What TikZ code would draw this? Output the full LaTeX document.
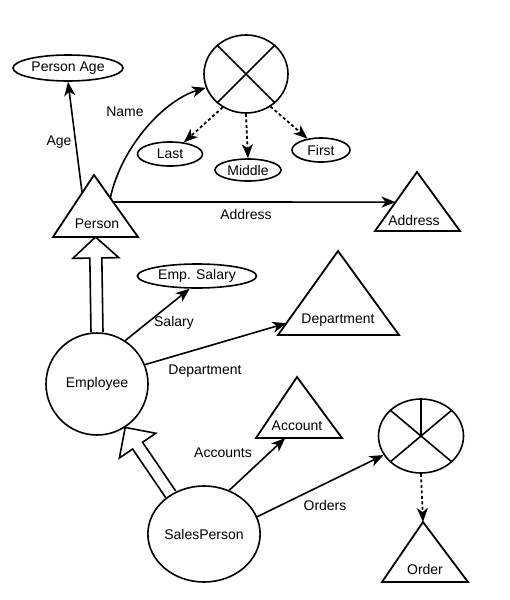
\documentclass[tikz,border=0pt]{standalone}
\usepackage{fontspec}
\setmainfont{Liberation Sans}
\usetikzlibrary{arrows.meta,calc,shapes.geometric}
\tikzset{
  txt/.style={font=\fontsize{14}{16}\selectfont, inner sep=0pt},
  ell/.style={ellipse, draw, line width=1.6pt, inner sep=0pt, font=\fontsize{14}{16}\selectfont},
  arr/.style={line width=1.6pt, -{Stealth[length=14pt,width=11pt,inset=4pt]}},
  dotarr/.style={arr, line width=1.8pt, dash pattern=on 3pt off 2.5pt},
  tri/.style={line width=1.8pt, line join=miter},
  hollow/.style={line width=1.6pt, line join=miter},
  spoke/.style={line width=1.6pt}
}
\newcommand{\hollowarrow}[4]{% tip, tail, head length, head half width
  \path ($(#1)!#3!(#2)$) coordinate (hb);
  \draw[hollow] ($(#2)!6pt!-90:(#1)$) -- ($(hb)!6pt!-90:(#1)$) -- ($(hb)!#4!-90:(#1)$) -- (#1)
    -- ($(hb)!#4!90:(#1)$) -- ($(hb)!6pt!90:(#1)$) -- ($(#2)!6pt!90:(#1)$);
}
\begin{document}
\begin{tikzpicture}[x=1pt,y=-1pt]
\useasboundingbox (0,0) rectangle (510,600);

% ellipses
\node[ell, minimum width=110pt, minimum height=26pt] (page) at (68,68) {Person Age};
\node[ell, minimum width=65pt, minimum height=24pt] (last) at (170,154) {Last};
\node[ell, minimum width=66pt, minimum height=22pt] (mid) at (248,170) {Middle};
\node[ell, minimum width=58pt, minimum height=24pt] (first) at (321,150) {First};
\node[ell, minimum width=119pt, minimum height=24pt] (esal) at (197,276) {Emp. Salary};

% cross circles
\node[ell, minimum width=84pt, minimum height=78pt] (xA) at (246,74) {};
\draw[spoke] (xA.45) -- (xA.225) (xA.135) -- (xA.315);
\node[ell, minimum width=85pt, minimum height=74pt] (xB) at (421,436) {};
\draw[spoke] (xB.north) -- (xB.center) (xB.40) -- (xB.220) (xB.140) -- (xB.320);

% circles
\node[ell, minimum width=102pt, minimum height=102pt] (emp) at (97,384) {Employee};
\node[ell, minimum width=102pt, minimum height=96pt] (sp) at (204,534) {SalesPerson};

% triangles
\coordinate (personT) at (94,175); \coordinate (personL) at (53,237); \coordinate (personR) at (138,237);
\coordinate (personB) at ($(personL)!0.5!(personR)$);
\draw[tri] (personT) -- (personL) -- (personR) -- cycle;
\node[txt] (person) at (97,224) {Person};

\coordinate (addrT) at (417,172); \coordinate (addrL) at (375,231); \coordinate (addrR) at (460,231);
\draw[tri] (addrT) -- (addrL) -- (addrR) -- cycle;
\node[txt] (addr) at (414,220) {Address};

\coordinate (deptT) at (338,251); \coordinate (deptL) at (278,335); \coordinate (deptR) at (399,335);
\draw[tri] (deptT) -- (deptL) -- (deptR) -- cycle;
\node[txt] (dept) at (338,320) {Department};

\coordinate (accT) at (297,377); \coordinate (accL) at (256,438); \coordinate (accR) at (342,438);
\draw[tri] (accT) -- (accL) -- (accR) -- cycle;
\node[txt] (acc) at (297,426) {Account};

\coordinate (ordT) at (423,522); \coordinate (ordL) at (382,582); \coordinate (ordR) at (468,582);
\draw[tri] (ordT) -- (ordL) -- (ordR) -- cycle;
\node[txt] (ord) at (425,569) {Order};

% connectors
\draw[arr] ($(personT)!0.29!(personL)$) coordinate (ageS) -- (page.south);
\node[txt] (agelbl) at (59,142) {Age};

\draw[arr] ($(personT)!0.37!(personR)$) coordinate (nameS) .. controls (122,145) and (165,100) .. (xA.199);
\node[txt] (namelbl) at (125,112) {Name};

\draw[dotarr] (xA.235) -- (last.40);
\draw[dotarr] (xA.south) -- (mid.north);
\draw[dotarr] (xA.307) -- (first.140);

\draw[arr] ($(personT)!0.435!(personR)$) coordinate (addrS) -- ($(addrT)!0.51!(addrL)$) coordinate (addrE);
\node[txt] (addrlbl) at (246,214) {Address};

\hollowarrow{personB}{emp.north}{21pt}{23pt}

\draw[arr] (emp.57) -- (esal.-120);
\node[txt] (sallbl) at (174,323) {Salary};

\draw[arr] (emp.22) -- ($(deptT)!0.86!(deptL)$) coordinate (deptE);
\node[txt] (deptlbl) at (205,371) {Department};

\hollowarrow{emp.-57}{sp.130}{22pt}{22pt}

\draw[arr] (sp.60) -- ($(accL)!0.34!(accR)$) coordinate (accE);
\node[txt] (acclbl) at (223,453) {Accounts};

\draw[arr] (sp.18) -- (xB.207);
\node[txt] (ordlbl) at (325,505) {Orders};

\draw[dotarr] (xB.south) -- (ordT);
\end{tikzpicture}
\end{document}
